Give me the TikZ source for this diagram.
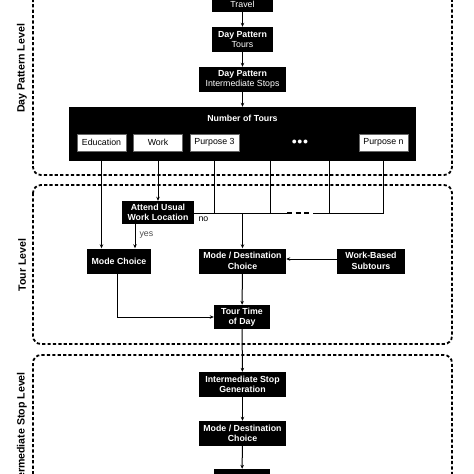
\documentclass[tikz,border=0pt]{standalone}
\usepackage{fontspec}
\setmainfont{Liberation Sans}
\usepackage{tikz}
\usetikzlibrary{arrows.meta}

\begin{document}
\begin{tikzpicture}[x=1pt,y=-1pt]
    \tikzstyle{every node} = [font=\fontsize{8.8}{10.5}\selectfont, inner sep=0pt]
    \tikzstyle{block} = [fill=black, text=white, align=center, minimum height=25pt]
    \tikzstyle{choice} = [draw=black!60, fill=white, text=black, minimum width=49pt, minimum height=17pt]
    \tikzstyle{level} = [draw, line width=1.8pt, dash pattern=on 3.2pt off 2.2pt, rounded corners=8pt]
    \tikzstyle{levellabel} = [rotate=90, font=\fontsize{10.6}{12}\selectfont\bfseries]
    \tikzstyle{link} = [-{Stealth[length=4pt,width=3.5pt]}, line width=1pt]
    \clip (0,0) rectangle (474,474);
    % level frames
    \draw[level] (33,-20) rectangle (452,175);
    \draw[level] (33,185) rectangle (452,344);
    \draw[level] (33,355) rectangle (452,510);
    \node[levellabel] (dayLevel) at (22,68.5){Day Pattern Level};
    \node[levellabel] (tourLevel) at (22,265){Tour Level};
    \node[levellabel] (stopLevel) at (22,432){Intermediate Stop Level};
    % place nodes
    \node[block,minimum width=61pt] (dpTravel) at (242.5,-1){\textbf{\phantom{Day Pattern}}\\Travel};
    \node[block,minimum width=61pt] (dpTours) at (242.5,39.5){\textbf{Day Pattern}\\Tours};
    \node[block,minimum width=87pt] (dpStops) at (242.5,79.5){\textbf{Day Pattern}\\Intermediate Stops};
    \node[block,minimum width=347pt,minimum height=54pt] (numTours) at (242.5,134){};
    \node[text=white,font=\fontsize{8.8}{10.5}\selectfont\bfseries] (numToursTitle) at (242.5,118){Number of Tours};
    \node[choice] (education) at (101.5,142.5){Education};
    \node[choice] (work) at (158,142.5){Work};
    \node[choice] (purposeThree) at (214.5,142.5){Purpose 3};
    \node[text=white,minimum width=58pt,font=\bfseries] (moreTours) at (300,142){$\bullet\!\bullet\!\bullet$};
    \node[choice] (purposeN) at (383.5,142.5){Purpose n};
    \node[block,minimum width=72pt,minimum height=23pt,font=\fontsize{8.8}{10.5}\selectfont\bfseries] (attendWork) at (158,212.5){Attend Usual\\Work Location};
    \node[block,minimum width=64pt,font=\fontsize{8.8}{10.5}\selectfont\bfseries] (modeChoice) at (119,261){Mode Choice};
    \node[block,minimum width=87pt,font=\fontsize{8.8}{10.5}\selectfont\bfseries] (tourModeDest) at (242.5,261){Mode / Destination\\Choice};
    \node[block,minimum width=68pt,font=\fontsize{8.8}{10.5}\selectfont\bfseries] (workSubtours) at (371,261){Work-Based\\Subtours};
    \node[block,minimum width=56pt,minimum height=24pt,font=\fontsize{8.8}{10.5}\selectfont\bfseries] (tourTime) at (242,317){Tour Time\\of Day};
    \node[block,minimum width=87pt,font=\fontsize{8.8}{10.5}\selectfont\bfseries] (stopGen) at (242.5,384.5){Intermediate Stop\\Generation};
    \node[block,minimum width=87pt,font=\fontsize{8.8}{10.5}\selectfont\bfseries] (stopModeDest) at (242.5,433.5){Mode / Destination\\Choice};
    \node[block,minimum width=56pt] (stopNext) at (242,481.5){};
    \coordinate (split) at (242.5,213);
    % Connections
    \draw[link] (dpTravel)--(dpTours);
    \draw[link] (dpTours)--(dpStops);
    \draw[link] (dpStops)--(numTours);
    \draw[link] (education.south|-numTours.south)--(education.south|-modeChoice.north);
    \draw[link] (work.south|-numTours.south)--(attendWork);
    \draw[link] (attendWork.south-|135,0)--node[right=4pt,pos=0.45,text=black!70]{yes}(modeChoice.north-|135,0);
    \draw[line width=1pt] (attendWork.east|-split)--node[pos=0.1,below=3pt]{no}(287,213);
    \draw[line width=1.2pt,dash pattern=on 5pt off 3.5pt] (287,213)--(310,213);
    \draw[line width=1pt] (313,213)--(purposeN.south|-split);
    \draw[line width=1pt] (purposeThree.south|-numTours.south)--(purposeThree.south|-split);
    \draw[line width=1pt] (moreTours.west|-numTours.south)--(moreTours.west|-split);
    \draw[line width=1pt] (moreTours.east|-numTours.south)--(moreTours.east|-split);
    \draw[line width=1pt] (purposeN.south|-numTours.south)--(purposeN.south|-split);
    \draw[link] (split)--(tourModeDest);
    \draw[link] ([yshift=2pt]workSubtours.west)--([yshift=2pt]tourModeDest.east);
    \draw[link] (modeChoice.south-|117,0)|-(tourTime.west);
    \draw[link] (tourModeDest)--(tourTime);
    \draw[link] (tourTime)--(stopGen);
    \draw[link] (stopGen)--(stopModeDest);
    \draw[link] (stopModeDest)--(stopNext);
\end{tikzpicture}
\end{document}
